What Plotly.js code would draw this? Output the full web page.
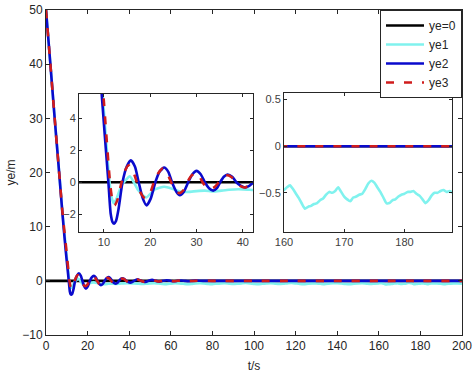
<!DOCTYPE html>
<html>
<head>
<meta charset="utf-8">
<script src="https://cdn.plot.ly/plotly-3.0.1.min.js"></script>
<style>html,body{margin:0;padding:0;background:#fff;}#plot{width:474px;height:374px;}</style>
</head>
<body>
<div id="plot"></div>
<script>
// ---- data ----
const seriesNames = ['ye=0', 'ye1', 'ye2', 'ye3'];

const t0 = [0, 200];
const y0 = [0, 0];

// ye2 (blue)
const t2 = [0, 2, 4, 6, 8, 9.5, 10.95, 11.45, 11.85, 12.2, 12.6, 13.1, 14.0, 14.9, 15.8, 16.7, 17.5, 18.4, 19.2, 20.1, 21.1, 22.0, 23.0, 23.9, 24.7, 25.6, 26.4, 27.3, 28.2, 29.1, 30.0,
  30.9, 31.8, 32.7, 33.6, 34.4, 35.1, 35.9, 36.7, 37.7, 38.6, 39.6, 40.5, 41.4, 42.3, 44.0, 45.7, 47.5, 49.3, 51.0, 52.7, 54.5, 56.3, 58.0, 59.8, 61.5,
  63.3, 65.0, 66.8, 68.5, 70.3, 72.0, 75.5, 80, 100, 120, 140, 160, 180, 200];
const y2 = [50, 40.5, 30.8, 21.5, 12, 5.5, 0, -1.96, -2.48, -2.58, -2.42, -1.75, 0, 0.97, 1.37, 0.97, 0, -1.02, -1.44, -1.02, 0, 0.65, 0.92, 0.65, 0, -0.57, -0.81, -0.57, 0, 0.5, 0.71,
  0.5, 0, -0.37, -0.52, -0.37, 0, 0.34, 0.48, 0.34, 0, -0.23, -0.33, -0.23, 0, 0.28, 0, -0.22, 0, 0.18, 0, -0.14, 0, 0.11, 0, -0.08,
  0, 0.06, 0, -0.05, 0, 0.03, 0, 0, 0, 0, 0, 0, 0, 0];

// ye3 (red dashed)
const t3 = [0, 2, 4, 6, 8, 9.85, 11.3, 11.8, 12.3, 12.9, 13.8, 14.6, 15.3, 16.2, 17.1, 18.0, 18.9, 19.9, 20.8, 21.8, 22.7, 23.6, 24.5, 25.4, 26.3, 27.2, 28.0, 28.9, 29.7, 30.5, 31.3, 32.1, 32.9,
  33.9, 34.8, 35.8, 36.7, 37.6, 38.5, 39.4, 40.3, 41.2, 42.1, 43.9, 45.7, 47.4, 49.2, 50.9, 52.7, 54.4, 56.2, 57.9, 59.7, 61.4, 63.2, 65.0,
  66.8, 68.5, 72.0, 80, 100, 120, 140, 160, 180, 200];
const y3 = [50, 40.5, 30.8, 21.5, 12.3, 5.5, 0, -1.1, -1.44, -1.1, 0, 0.75, 1.06, 0.75, 0, -0.71, -1.0, -0.71, 0, 0.6, 0.85, 0.6, 0, -0.48, -0.68, -0.48, 0, 0.41, 0.58, 0.41, 0, -0.3, -0.42,
  -0.3, 0, 0.31, 0.44, 0.31, 0, -0.23, -0.33, -0.23, 0, 0.26, 0, -0.2, 0, 0.16, 0, -0.12, 0, 0.1, 0, -0.07, 0, 0.05,
  0, -0.04, 0, 0, 0, 0, 0, 0, 0, 0];

// ye1 (cyan)
const t1 = [0, 2, 4, 6, 8, 9.7, 11.2, 11.7, 12.1, 12.6, 13.8, 15.6, 17.4, 19.1, 21.0, 23.0, 24.7, 26.4, 28.2, 30.0, 31.8, 33.6,
  35.4, 37.0, 39.0, 41.0,
  42, 44, 46, 48, 50, 52, 54, 56, 58, 60, 62, 64, 66, 68, 70, 72, 74, 76, 78, 80, 82, 84, 86, 88, 90, 92, 94, 96, 98,
  100, 102, 104, 106, 108, 110, 112, 114, 116, 118, 120, 122, 124, 126, 128, 130, 132, 134, 136, 138, 140, 142, 144,
  146, 148, 150, 152, 154, 156, 158,
  160.0, 160.5, 161.0, 161.5, 162.0, 162.5, 163.0, 163.5, 164.0, 164.5, 165.0, 165.5, 166.0, 166.5, 167.0, 167.5,
  168.0, 168.5, 169.0, 169.5, 170.0, 170.5, 171.0, 171.5, 172.0, 172.5, 173.0, 173.5, 174.0, 174.5, 175.0, 175.5,
  176.0, 176.5, 177.0, 177.5, 178.0, 178.5, 179.0, 179.5, 180.0, 180.5, 181.0, 181.5, 182.0, 182.5, 183.0, 183.5,
  184.0, 184.5, 185.0, 185.5, 186.0, 186.5, 187.0, 187.5, 188.0,
  190, 192, 194, 196, 198, 200];
const y1 = [50, 40.5, 30.8, 21.5, 12.2, 5.5, 0, -1.0, -1.3, -1.1, -0.2, 0.37, -0.5, -0.95, -0.45, -0.28, -0.4, -0.58, -0.6, -0.55, -0.52, -0.58,
  -0.52, -0.47, -0.44, -0.46,
  -0.48, -0.52, -0.58, -0.55, -0.47, -0.43, -0.50, -0.57, -0.60, -0.52, -0.45, -0.48, -0.55, -0.62, -0.56, -0.47, -0.42,
  -0.49, -0.58, -0.61, -0.53, -0.46, -0.44, -0.52, -0.59, -0.55, -0.48, -0.41, -0.47,
  -0.56, -0.63, -0.55, -0.49, -0.45, -0.51, -0.58, -0.54, -0.46, -0.40, -0.48, -0.57, -0.61, -0.53, -0.47, -0.50, -0.55,
  -0.60, -0.52, -0.44, -0.42, -0.50, -0.58, -0.62, -0.54, -0.48, -0.45, -0.52, -0.59, -0.53,
  -0.47, -0.44, -0.42, -0.46, -0.51, -0.56, -0.62, -0.67, -0.65, -0.64, -0.62, -0.61, -0.58, -0.56, -0.52, -0.49,
  -0.50, -0.48, -0.44, -0.49, -0.54, -0.57, -0.59, -0.55, -0.54, -0.52, -0.51, -0.46, -0.40, -0.37, -0.39, -0.44,
  -0.49, -0.55, -0.61, -0.61, -0.58, -0.57, -0.54, -0.52, -0.51, -0.49, -0.49, -0.48, -0.51, -0.53, -0.57, -0.61,
  -0.58, -0.53, -0.50, -0.50, -0.48, -0.47, -0.49, -0.48, -0.50,
  -0.55, -0.60, -0.53, -0.46, -0.49, -0.55];

// ---- styles ----
const FONT = 'Liberation Sans, Arial, sans-serif';
const AX = '#262626';
const colBlack = '#000000', colCyan = '#80F2EE', colBlue = '#0A0ACC', colRed = '#D01C1C';
const DASH = '8px,10px';

const xs = [t0, t1, t2, t3];
const ys = [y0, y1, y2, y3];
const lines = [
  {color: colBlack, width: 2.6},
  {color: colCyan, width: 2.6, shape: 'spline', smoothing: 0.5},
  {color: colBlue, width: 2.6, shape: 'spline', smoothing: 0.6},
  {color: colRed, width: 2.6, dash: DASH, shape: 'spline', smoothing: 0.6}
];

const traces = [];
const axesSets = [['x', 'y'], ['x2', 'y2'], ['x3', 'y3']];
axesSets.forEach((ax, k) => {
  for (let i = 0; i < 4; i++) {
    traces.push({
      type: 'scatter', mode: 'lines',
      x: xs[i], y: ys[i],
      name: seriesNames[i],
      line: lines[i],
      xaxis: ax[0], yaxis: ax[1],
      showlegend: k === 0,
      hoverinfo: 'skip'
    });
  }
});

function axBase(extra) {
  return Object.assign({
    showline: true, linecolor: AX, linewidth: 1, mirror: 'ticks',
    ticks: 'inside', ticklen: 4, tickcolor: AX, tickwidth: 1,
    showgrid: false, zeroline: false,
    tickfont: {family: FONT, size: 12, color: AX}
  }, extra);
}

const insetFont = {family: FONT, size: 11, color: '#404040'};

const layout = {
  width: 474, height: 374,
  margin: {l: 46, r: 12, t: 10, b: 39},
  paper_bgcolor: '#ffffff', plot_bgcolor: '#ffffff',
  font: {family: FONT, color: AX},
  showlegend: true,
  legend: {
    x: 1, y: 1, xanchor: 'right', yanchor: 'top',
    bgcolor: '#ffffff', bordercolor: AX, borderwidth: 1,
    font: {family: FONT, size: 12, color: AX},
    tracegroupgap: 0, itemwidth: 38
  },
  xaxis: axBase({range: [0, 200], tickvals: [0, 20, 40, 60, 80, 100, 120, 140, 160, 180, 200], domain: [0, 1], anchor: 'y',
    title: {text: 't/s', font: {family: FONT, size: 12, color: AX}, standoff: 9}}),
  yaxis: axBase({range: [-10, 50], tickvals: [-10, 0, 10, 20, 30, 40, 50], domain: [0, 1], anchor: 'x',
    title: {text: 'ye/m', font: {family: FONT, size: 12, color: AX}, standoff: 4}}),
  xaxis2: axBase({range: [4.6, 42.2], tickvals: [10, 20, 30, 40], domain: [0.0793, 0.4976], anchor: 'y2', ticklen: 3,
    tickfont: insetFont}),
  yaxis2: axBase({range: [-3.1, 5.5], tickvals: [-2, 0, 2, 4], domain: [0.3169, 0.7415], anchor: 'x2', ticklen: 3,
    tickfont: insetFont}),
  xaxis3: axBase({range: [160, 187.9], tickvals: [160, 170, 180], domain: [0.572, 0.976], anchor: 'y3', ticklen: 3,
    tickfont: insetFont}),
  yaxis3: axBase({range: [-0.92, 0.57], tickvals: [-0.5, 0, 0.5], domain: [0.3169, 0.7446], anchor: 'x3', ticklen: 3,
    tickfont: insetFont})
};

Plotly.newPlot('plot', traces, layout, {staticPlot: true, displayModeBar: false});
</script>
</body>
</html>
